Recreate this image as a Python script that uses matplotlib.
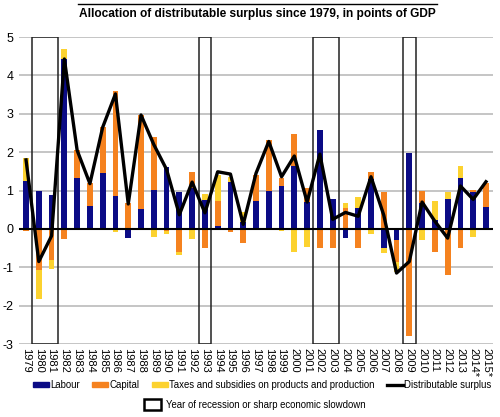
import matplotlib.pyplot as plt
import numpy as np
from matplotlib.patches import Rectangle, Patch
from matplotlib.lines import Line2D

plt.rcParams['font.family'] = ['Liberation Sans', 'DejaVu Sans']
plt.rcParams['axes.unicode_minus'] = False

years = [str(y) for y in range(1979, 2014)] + ["2014*", "2015*"]
labour = [1.25, 1.0, 0.89, 4.44, 1.34, 0.61, 1.45, 0.87, -0.23, 0.52, 1.01, 1.62, 0.97,
          1.06, 0.76, 0.07, 1.23, 0.19, 0.73, 1.0, 1.13, 1.64, 0.7, 2.57, 0.77, -0.23,
          0.55, 1.29, -0.5, -0.29, 1.99, 0.67, 0.23, 0.78, 1.32, 0.97, 0.58]
capital = [-0.05, -1.07, -0.81, -0.27, 0.72, 0.58, 1.21, 2.72, 0.67, 2.45, 1.39, -0.05, -0.59,
           0.43, -0.5, 0.67, -0.07, -0.36, 0.68, 1.32, 0.19, 0.83, 0.36, -0.5, -0.5, 0.54,
           -0.5, 0.2, 0.95, -0.56, -2.8, 0.32, -0.59, -1.2, -0.5, 0.05, 0.63]
taxes = [0.6, -0.76, -0.23, 0.25, 0, 0, 0, -0.07, 0, 0, -0.2, -0.07, -0.09,
         -0.27, 0.15, 0.67, 0.13, 0.26, 0, -0.03, -0.05, -0.59, -0.46, 0, 0, 0.13,
         0.27, -0.14, -0.13, -0.28, 0, -0.29, 0.51, 0.17, 0.33, -0.22, 0]
surplus = [1.8, -0.85, -0.18, 4.43, 2.05, 1.18, 2.65, 3.52, 0.65, 2.97, 2.2, 1.55, 0.37,
           1.22, 0.42, 1.49, 1.43, 0.12, 1.45, 2.28, 1.36, 1.9, 0.7, 1.95, 0.25, 0.43,
           0.33, 1.36, 0.36, -1.15, -0.85, 0.7, 0.2, -0.24, 1.12, 0.77, 1.23]
recessions = [("1980", "1981"), ("1993", "1993"), ("2002", "2003"), ("2009", "2009")]

c_lab, c_cap, c_tax = "#0b0b85", "#f5821f", "#fcd22f"

fig = plt.figure(figsize=(5, 4.17), dpi=100)
ax = fig.add_axes([0.038, 0.175, 0.948, 0.736])

x = np.arange(len(years))
pos_base = np.zeros(len(years))
neg_base = np.zeros(len(years))
for vals, col in [(labour, c_lab), (capital, c_cap), (taxes, c_tax)]:
    v = np.array(vals)
    bottom = np.where(v >= 0, pos_base, neg_base)
    ax.bar(x, v, 0.45, bottom=bottom, color=col, zorder=2)
    pos_base += np.where(v >= 0, v, 0)
    neg_base += np.where(v < 0, v, 0)

ax.plot(x, surplus, color="black", lw=2.4, zorder=4)

for a, b in recessions:
    i0, i1 = years.index(a), years.index(b)
    ax.add_patch(Rectangle((i0 - 0.5, -3), i1 - i0 + 1, 8, fill=False,
                           edgecolor="#222222", lw=1.1, zorder=3))

ax.set_ylim(-3, 5)
ax.set_xlim(-0.55, len(years) - 0.45)
ax.set_yticks(range(-3, 6))
ax.yaxis.grid(True, color="#bbbbbb", lw=1.2, zorder=0)
ax.axhline(0, color="black", lw=1.5, zorder=3)
ax.set_xticks(x)
ax.set_xticklabels(years, rotation=-90, fontsize=8)
ax.tick_params(axis="y", labelsize=9, length=0, pad=4)
ax.tick_params(axis="x", length=0, pad=3)
for s in ax.spines.values():
    s.set_visible(False)

fig.add_artist(Line2D([0.156, 0.874], [0.99, 0.99], color="black", lw=1))
fig.text(0.515, 0.967, "Allocation of distributable surplus since 1979, in points of GDP",
         ha="center", va="center", fontsize=8.6, fontweight="bold")

h1 = [Patch(color=c_lab), Patch(color=c_cap), Patch(color=c_tax),
      Line2D([], [], color="black", lw=2.4)]
fig.legend(h1, ["Labour", "Capital", "Taxes and subsidies on products and production",
                "Distributable surplus"], loc="center", bbox_to_anchor=(0.524, 0.077),
           ncol=4, frameon=False, fontsize=6.9, handlelength=1.7, handleheight=0.5,
           handletextpad=0.1, columnspacing=1.3, borderaxespad=0, borderpad=0)
box = Patch(facecolor="white", edgecolor="black", lw=1.8)
fig.legend([box], ["Year of recession or sharp economic slowdown"], loc="center",
           bbox_to_anchor=(0.51, 0.029), frameon=False, fontsize=6.9,
           handlelength=1.8, handleheight=1.4, handletextpad=0.5)

fig.savefig("out.png", dpi=100)
